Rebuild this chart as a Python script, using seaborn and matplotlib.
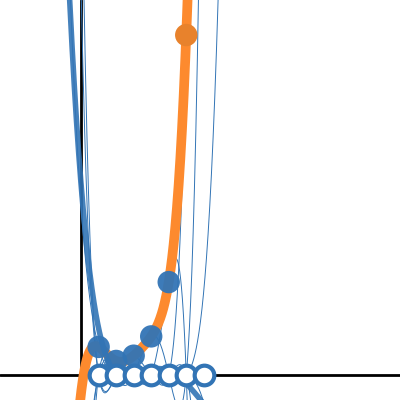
import numpy as np
import seaborn as sns
import matplotlib.pyplot as plt

sns.set_style("white")

node_x = [1, 2, 3, 4, 5, 6]
node_y = [1.6, 0.8, 1.1, 2.2, 5.3, 19.4]
zero_x = [1, 2, 3, 4, 5, 6, 7]
# thick blue curve
trend_x = [-0.7, 0.0, 0.5, 1.0, 2.0, 3.0, 4.0, 5.0, 6.0, 7.0, 7.6]
trend_y = [22.0, 12.0, 5.5, 1.6, 0.5, 0.3, 0.2, 0.0, -0.5, -1.4, -2.5]

blue = "#3274b5"
orange = "#fd8a2e"

fig, ax = plt.subplots(figsize=(4, 4), dpi=100)
fig.subplots_adjust(0, 0, 1, 1)
ax.axhline(0, color="black", lw=2, zorder=1)
ax.axvline(0, color="black", lw=2, zorder=1)

xs = np.linspace(-5, 19, 2000)
nx = np.array(node_x, float)
for i, (xi, yi) in enumerate(zip(node_x, node_y)):
    others = np.delete(nx, i)
    basis = np.prod([(xs - o) / (xi - o) for o in others], axis=0)
    sns.lineplot(x=xs, y=yi * basis, ax=ax, color=blue, lw=0.7, zorder=2)

coef = np.polyfit(node_x, node_y, len(node_x) - 1)
sns.lineplot(x=xs, y=np.polyval(coef, xs), ax=ax, color=orange, lw=7, zorder=3)

tx = np.linspace(trend_x[0], trend_x[-1], 400)
tc = np.polyfit(trend_x, trend_y, 5)
sns.lineplot(x=tx, y=np.polyval(tc, tx), ax=ax, color=blue, lw=4, alpha=0.9, zorder=4)

sns.scatterplot(x=node_x[:-1], y=node_y[:-1], ax=ax, color=blue, s=260,
                edgecolor="none", alpha=0.95, zorder=5)
sns.scatterplot(x=node_x[-1:], y=node_y[-1:], ax=ax, color="#e8822c", s=260,
                edgecolor="none", zorder=5)
sns.scatterplot(x=zero_x, y=[0] * len(zero_x), ax=ax, facecolor="white",
                edgecolor=blue, linewidth=3, s=200, zorder=6)

ax.set_xlim(-4.63, 18.2)
ax.set_ylim(-1.43, 21.4)
ax.axis("off")
fig.savefig("out.png")
